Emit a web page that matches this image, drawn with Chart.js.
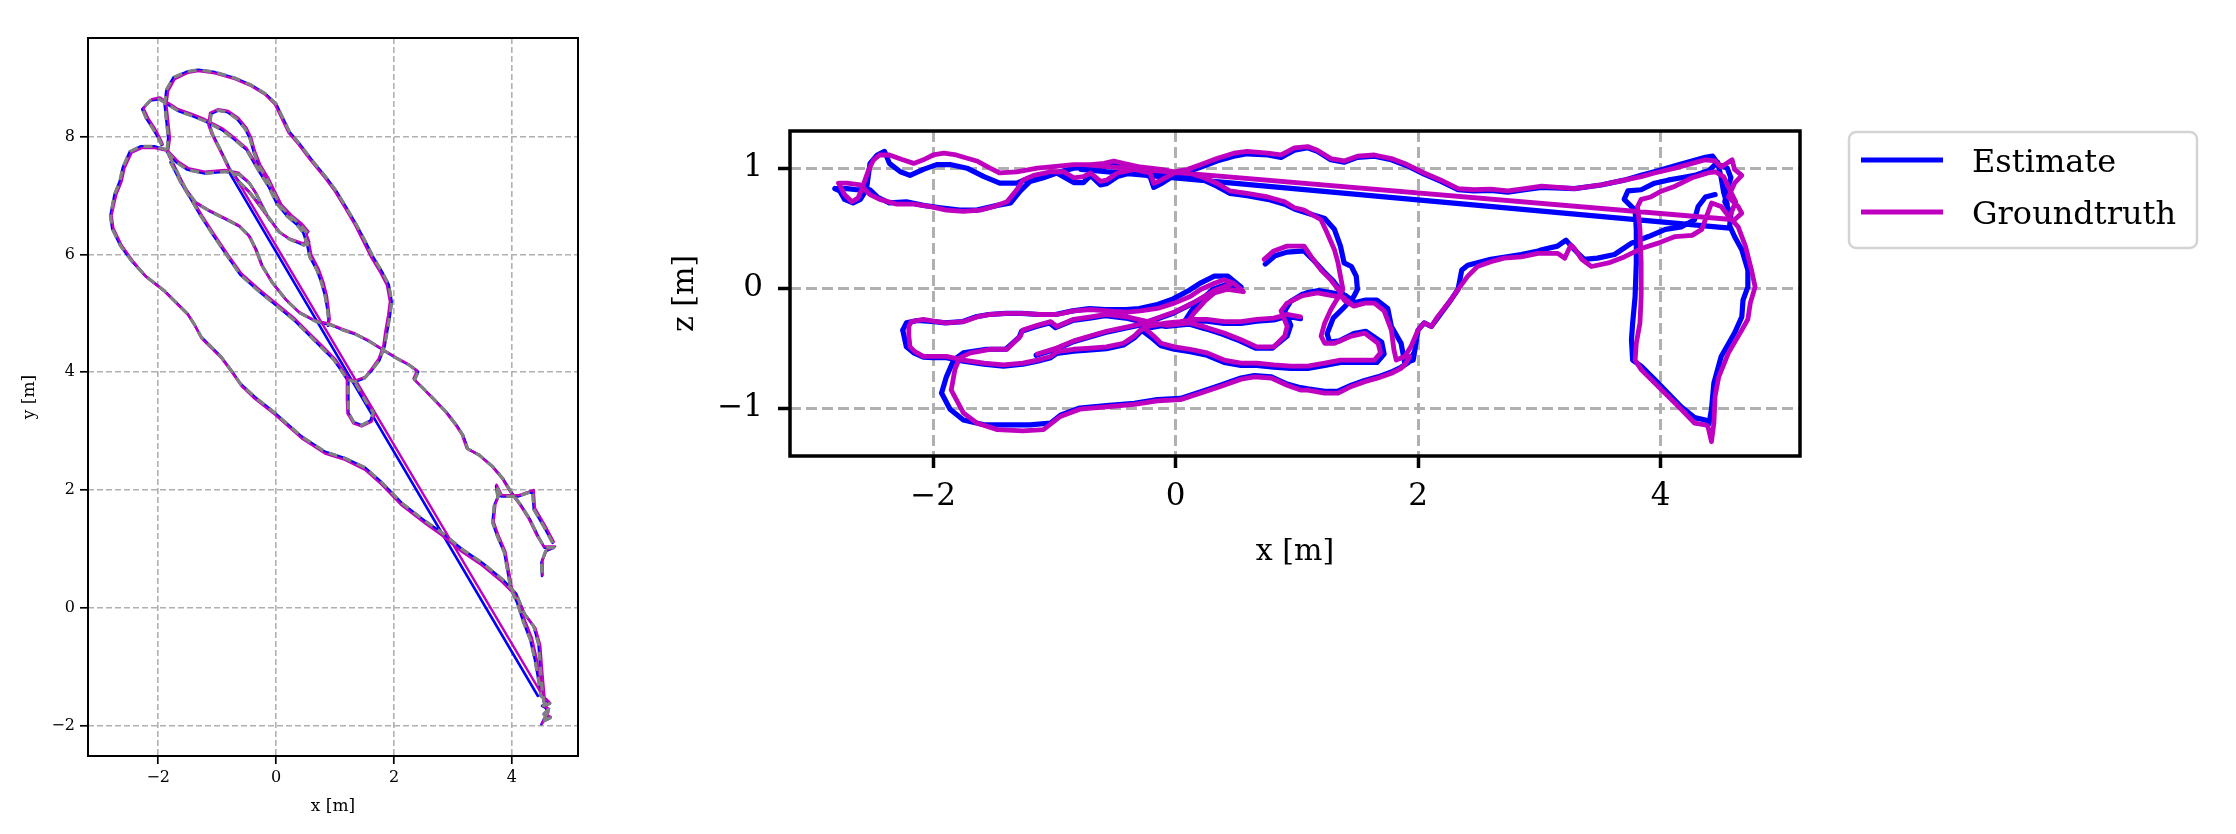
<!DOCTYPE html>
<html>
<head>
<meta charset="utf-8">
<script src="https://cdn.jsdelivr.net/npm/chart.js@4.4.1/dist/chart.umd.min.js"></script>
<style>
  html, body { margin: 0; padding: 0; background: #fff; }
  body { width: 2236px; height: 834px; position: relative; overflow: hidden; }
  canvas { position: absolute; top: 0; }
  #xy { left: 0; }
  #xz { left: 620px; }
</style>
</head>
<body>
<canvas id="xy" width="600" height="834"></canvas>
<canvas id="xz" width="1616" height="834"></canvas>
<script>
// tick values
const xyTicksX = [-2, 0, 2, 4];
const xyTicksY = [-2, 0, 2, 4, 6, 8];
const xzTicksX = [-2, 0, 2, 4];
const xzTicksZ = [-1, 0, 1];
const seriesNames = ['Estimate', 'Groundtruth'];

// top view (x, y) - each inner list is one traced stretch of the trajectory
const gtXY = [
  [[-1.83,7.76],[-2.06,7.81],[-2.28,7.81],[-2.45,7.73],[-2.57,7.47],[-2.62,7.24],[-2.71,7.02],[-2.79,6.67],[-2.76,6.45],[-2.62,6.16],[-2.42,5.88],[-2.20,5.62],[-1.89,5.37],[-1.66,5.14],[-1.49,4.97],[-1.38,4.80],[-1.26,4.57],[-1.09,4.40],[-0.92,4.23],[-0.75,4.00],[-0.59,3.77],[-0.36,3.55],[-0.02,3.28],[0.43,2.88],[0.83,2.62],[1.17,2.51],[1.51,2.34],[1.79,2.09],[2.13,1.74],[2.53,1.43],[2.81,1.23],[3.15,0.95],[3.49,0.72],[3.83,0.44],[4.06,0.21],[4.23,-0.13],[4.40,-0.35],[4.48,-0.64],[4.51,-1.04],[4.54,-1.38],[4.56,-1.60],[4.62,-1.77],[4.51,-1.97]],
  [[-1.83,7.76],[-1.80,7.98],[-1.83,8.27],[-1.86,8.55],[-1.83,8.78],[-1.72,8.98],[-1.49,9.09],[-1.32,9.12],[-1.04,9.08],[-0.70,8.98],[-0.42,8.86],[-0.19,8.72],[-0.02,8.55],[0.09,8.32],[0.21,8.07],[0.38,7.87],[0.60,7.58],[0.83,7.30],[1.00,7.07],[1.17,6.79],[1.34,6.50],[1.48,6.22],[1.62,5.94],[1.76,5.71],[1.88,5.48],[1.93,5.20],[1.90,4.97],[1.85,4.68],[1.82,4.46],[1.74,4.23],[1.62,4.06],[1.51,3.92],[1.34,3.86],[1.20,3.89],[1.20,3.53],[1.21,3.30],[1.31,3.13],[1.45,3.08],[1.62,3.16],[1.67,3.30],[1.54,3.50],[1.34,3.83]],
  [[-1.92,7.87],[-1.97,7.98],[-2.06,8.15],[-2.17,8.32],[-2.25,8.49],[-2.11,8.64],[-1.97,8.67],[-1.83,8.58],[-1.66,8.47],[-1.43,8.39],[-1.21,8.30],[-0.92,8.15],[-0.70,7.98],[-0.50,7.81],[-0.36,7.58],[-0.25,7.41],[-0.10,7.19],[0.04,6.90],[0.21,6.70],[0.38,6.56],[0.49,6.42],[0.55,6.25],[0.60,5.99],[0.72,5.76],[0.80,5.54],[0.86,5.31],[0.89,5.08],[0.91,4.91],[0.89,4.80]],
  [[0.55,6.39],[0.43,6.53],[0.26,6.67],[0.09,6.85],[-0.02,7.07],[-0.13,7.30],[-0.27,7.53],[-0.36,7.76],[-0.42,7.98],[-0.50,8.15],[-0.64,8.32],[-0.81,8.44],[-0.98,8.47],[-1.12,8.41],[-1.15,8.21],[-1.09,8.04],[-0.92,7.70],[-0.81,7.47],[-0.64,7.24],[-0.47,7.07],[-0.30,6.85],[-0.13,6.62],[0.04,6.39],[0.21,6.28],[0.46,6.19],[0.55,6.25]],
  [[-1.83,7.76],[-1.66,7.58],[-1.49,7.47],[-1.21,7.41],[-0.87,7.44],[-0.64,7.39],[-0.47,7.24],[-0.36,7.07],[-0.25,6.85],[-0.13,6.62]],
  [[-1.83,7.70],[-1.69,7.41],[-1.55,7.13],[-1.38,6.90],[-1.15,6.76],[-0.87,6.62],[-0.64,6.50],[-0.47,6.33],[-0.36,6.11],[-0.25,5.82],[-0.08,5.54],[0.15,5.25],[0.38,5.03],[0.66,4.88],[0.89,4.83],[1.11,4.74],[1.34,4.66],[1.57,4.54],[1.79,4.40],[2.02,4.26],[2.24,4.14],[2.39,4.03],[2.33,3.89],[2.47,3.75],[2.64,3.57],[2.87,3.33],[3.04,3.11],[3.15,2.94],[3.23,2.71],[3.43,2.60],[3.66,2.40],[3.83,2.20],[3.97,1.97],[4.14,1.74],[4.28,1.52],[4.42,1.23],[4.54,1.04],[4.73,1.04],[4.59,0.98],[4.51,0.78],[4.52,0.55]],
  [[-1.77,7.58],[-1.60,7.24],[-1.43,6.96],[-1.26,6.67],[-1.04,6.33],[-0.81,5.99],[-0.59,5.68],[-0.30,5.42],[0.04,5.14],[0.32,4.91],[0.55,4.68],[0.77,4.46],[1.00,4.23],[1.14,4.03],[1.23,3.89]],
  [[4.71,1.12],[4.56,1.40],[4.39,1.69],[4.37,2.00],[4.11,1.91],[3.83,1.91],[3.74,2.09],[3.78,1.90],[3.72,1.76],[3.69,1.46],[3.77,1.23],[3.89,0.95],[3.95,0.61],[4.00,0.33],[4.11,0.10],[4.23,-0.24],[4.34,-0.52],[4.42,-0.87],[4.48,-1.21],[4.51,-1.49],[4.58,-1.55],[4.65,-1.62],[4.52,-1.66],[4.63,-1.72],[4.55,-1.80],[4.66,-1.86],[4.55,-1.90]]
];
const estXY = [
  [[-1.85,7.78],[-2.07,7.84],[-2.29,7.84],[-2.48,7.75],[-2.60,7.48],[-2.65,7.25],[-2.74,7.02],[-2.81,6.66],[-2.78,6.44],[-2.64,6.15],[-2.44,5.88],[-2.21,5.63],[-1.90,5.39],[-1.67,5.16],[-1.50,4.99],[-1.39,4.82],[-1.27,4.60],[-1.10,4.43],[-0.93,4.26],[-0.76,4.03],[-0.60,3.80],[-0.36,3.58],[-0.02,3.31],[0.43,2.91],[0.83,2.65],[1.17,2.54],[1.51,2.38],[1.79,2.13],[2.13,1.78],[2.53,1.47],[2.82,1.27],[3.16,0.99],[3.50,0.76],[3.84,0.48],[4.07,0.24],[4.21,-0.10],[4.37,-0.32],[4.45,-0.62],[4.48,-1.02],[4.51,-1.36],[4.54,-1.60],[4.60,-1.78],[4.50,-1.98]],
  [[-1.85,7.78],[-1.83,7.98],[-1.86,8.27],[-1.89,8.55],[-1.86,8.80],[-1.74,9.01],[-1.50,9.11],[-1.32,9.14],[-1.04,9.10],[-0.70,9.00],[-0.42,8.88],[-0.18,8.73],[0.00,8.56],[0.11,8.33],[0.23,8.08],[0.40,7.88],[0.62,7.59],[0.85,7.31],[1.02,7.08],[1.19,6.80],[1.36,6.51],[1.51,6.23],[1.65,5.95],[1.79,5.72],[1.91,5.49],[1.96,5.20],[1.93,4.96],[1.88,4.67],[1.84,4.44],[1.75,4.20],[1.62,4.03],[1.50,3.90],[1.34,3.84],[1.22,3.87],[1.22,3.53],[1.23,3.31],[1.32,3.15],[1.45,3.10],[1.60,3.18],[1.65,3.31],[1.52,3.51],[1.33,3.84]],
  [[-1.94,7.86],[-1.99,7.97],[-2.09,8.14],[-2.20,8.31],[-2.27,8.47],[-2.13,8.62],[-1.98,8.64],[-1.84,8.55],[-1.66,8.44],[-1.43,8.36],[-1.21,8.27],[-0.92,8.12],[-0.70,7.95],[-0.50,7.78],[-0.37,7.55],[-0.27,7.38],[-0.13,7.16],[0.01,6.87],[0.18,6.66],[0.35,6.51],[0.46,6.37],[0.52,6.20],[0.57,5.96],[0.69,5.74],[0.77,5.52],[0.83,5.30],[0.87,5.07],[0.89,4.90],[0.88,4.79]],
  [[0.53,6.37],[0.41,6.51],[0.24,6.65],[0.07,6.83],[-0.04,7.05],[-0.15,7.28],[-0.29,7.51],[-0.38,7.74],[-0.44,7.96],[-0.52,8.13],[-0.66,8.30],[-0.82,8.42],[-0.98,8.45],[-1.10,8.39],[-1.13,8.20],[-1.07,8.03],[-0.90,7.69],[-0.79,7.46],[-0.62,7.23],[-0.45,7.06],[-0.28,6.84],[-0.11,6.61],[0.06,6.38],[0.23,6.26],[0.47,6.16],[0.56,6.22]],
  [[-1.85,7.74],[-1.68,7.56],[-1.50,7.44],[-1.21,7.38],[-0.87,7.41],[-0.63,7.36],[-0.45,7.21],[-0.34,7.04],[-0.23,6.82],[-0.11,6.59]],
  [[-1.81,7.68],[-1.67,7.39],[-1.53,7.11],[-1.36,6.88],[-1.13,6.74],[-0.85,6.60],[-0.62,6.48],[-0.45,6.31],[-0.34,6.09],[-0.23,5.80],[-0.06,5.52],[0.17,5.23],[0.40,5.01],[0.68,4.86],[0.91,4.81],[1.13,4.72],[1.36,4.64],[1.59,4.52],[1.81,4.38],[2.04,4.24],[2.26,4.12],[2.41,4.01],[2.35,3.87],[2.49,3.73],[2.66,3.56],[2.89,3.32],[3.06,3.10],[3.17,2.93],[3.25,2.70],[3.45,2.59],[3.68,2.39],[3.85,2.19],[3.99,1.96],[4.16,1.73],[4.30,1.51],[4.44,1.22],[4.55,1.02],[4.71,1.02],[4.57,0.96],[4.50,0.77],[4.51,0.54]],
  [[-1.79,7.57],[-1.62,7.23],[-1.45,6.95],[-1.28,6.66],[-1.06,6.32],[-0.83,5.98],[-0.61,5.66],[-0.32,5.40],[0.02,5.12],[0.30,4.89],[0.53,4.66],[0.75,4.44],[0.98,4.21],[1.12,4.01],[1.21,3.87]],
  [[4.69,1.10],[4.54,1.38],[4.37,1.67],[4.35,1.98],[4.10,1.89],[3.82,1.89],[3.73,2.07],[3.76,1.88],[3.70,1.74],[3.67,1.45],[3.75,1.22],[3.87,0.94],[3.93,0.60],[3.98,0.32],[4.09,0.08],[4.20,-0.26],[4.31,-0.54],[4.39,-0.89],[4.45,-1.23],[4.49,-1.50],[4.57,-1.56],[4.64,-1.63],[4.51,-1.67],[4.62,-1.73],[4.54,-1.81],[4.65,-1.87],[4.53,-1.93]]
];
const gtJumpXY = [[-0.74,7.40],[4.50,-1.46]];
const estJumpXY = [[-0.78,7.37],[4.44,-1.50]];

// side view (x, z)
const gtXZ = [
  [[-2.78,0.875],[-2.73,0.78],[-2.67,0.72],[-2.62,0.75],[-2.59,0.82],[-2.53,0.99],[-2.49,1.07],[-2.44,1.11],[-2.36,1.11],[-2.25,1.07],[-2.16,1.04],[-2.08,1.07],[-2.00,1.11],[-1.91,1.125],[-1.81,1.11],[-1.64,1.06],[-1.53,1.00],[-1.45,0.96],[-1.31,0.97],[-1.14,1.00],[-1.03,1.01],[-0.84,1.03],[-0.70,1.03],[-0.59,1.04],[-0.51,1.06],[-0.43,1.04],[-0.29,1.01],[-0.12,0.99],[-0.01,0.97],[0.10,0.99],[0.21,1.03],[0.34,1.08],[0.48,1.125],[0.59,1.14],[0.76,1.125],[0.87,1.11],[0.98,1.17],[1.09,1.18],[1.17,1.15],[1.28,1.08],[1.39,1.06],[1.50,1.10],[1.64,1.11],[1.78,1.08],[1.91,1.03],[2.05,0.96],[2.19,0.90],[2.33,0.83],[2.46,0.82],[2.60,0.825],[2.74,0.81],[2.88,0.83],[3.02,0.85],[3.29,0.83],[3.51,0.86],[3.70,0.90],[3.84,0.93],[3.95,0.96],[4.12,1.00],[4.26,1.04],[4.37,1.07],[4.45,1.06],[4.50,1.01],[4.59,1.07],[4.61,0.99],[4.67,0.94],[4.61,0.875],[4.56,0.76],[4.64,0.68],[4.67,0.625],[4.61,0.57]],
  [[-2.78,0.875],[-2.71,0.875],[-2.60,0.86],[-2.52,0.78],[-2.44,0.74],[-2.30,0.70],[-2.16,0.70],[-2.02,0.68],[-1.89,0.65],[-1.75,0.64],[-1.61,0.65],[-1.50,0.68],[-1.39,0.72],[-1.31,0.82],[-1.26,0.90],[-1.17,0.94],[-1.03,0.97],[-0.92,0.97],[-0.84,0.92],[-0.76,0.93],[-0.70,0.96],[-0.62,0.89],[-0.57,0.90],[-0.48,0.96],[-0.34,0.99],[-0.21,0.96],[-0.18,0.875],[-0.12,0.90],[-0.01,0.96],[0.10,0.96],[0.21,0.93],[0.34,0.875],[0.45,0.81],[0.59,0.79],[0.76,0.76],[0.90,0.72],[0.98,0.67],[1.06,0.65],[1.20,0.57],[1.25,0.46],[1.31,0.32],[1.34,0.21],[1.36,0.10],[1.38,-0.01],[1.28,-0.18],[1.23,-0.29],[1.20,-0.40],[1.23,-0.46],[1.31,-0.46],[1.45,-0.40],[1.56,-0.375],[1.67,-0.46],[1.69,-0.54],[1.64,-0.60],[1.50,-0.60],[1.36,-0.60],[1.23,-0.625],[1.09,-0.65],[0.95,-0.65],[0.81,-0.64],[0.67,-0.625],[0.54,-0.625],[0.40,-0.60],[0.26,-0.54],[0.12,-0.51],[-0.01,-0.49],[-0.12,-0.46],[-0.18,-0.40],[-0.26,-0.33]],
  [[-2.20,-0.32],[-2.18,-0.28],[-2.08,-0.26],[-1.97,-0.28],[-1.89,-0.29],[-1.75,-0.28],[-1.64,-0.24],[-1.53,-0.22],[-1.39,-0.21],[-1.26,-0.21],[-1.12,-0.22],[-0.98,-0.22],[-0.84,-0.19],[-0.70,-0.18],[-0.57,-0.19],[-0.40,-0.20],[-0.29,-0.19],[-0.15,-0.17],[-0.01,-0.125],[0.12,-0.07],[0.21,-0.01],[0.32,0.04],[0.40,0.07],[0.48,0.04],[0.56,-0.03],[0.43,-0.01],[0.32,-0.04],[0.24,-0.11],[0.15,-0.21],[0.10,-0.28]],
  [[-2.20,-0.32],[-2.20,-0.40],[-2.19,-0.49],[-2.15,-0.53],[-2.08,-0.57],[-2.00,-0.57],[-1.89,-0.57],[-1.75,-0.60],[-1.58,-0.625],[-1.42,-0.64],[-1.26,-0.625],[-1.14,-0.60],[-1.03,-0.57],[-0.98,-0.53],[-0.84,-0.51],[-0.70,-0.50],[-0.57,-0.49],[-0.43,-0.46],[-0.34,-0.40],[-0.29,-0.35],[-0.23,-0.32],[-0.07,-0.29],[0.04,-0.28],[0.15,-0.26],[0.26,-0.26],[0.40,-0.28],[0.54,-0.28],[0.67,-0.26],[0.81,-0.25],[0.92,-0.22],[1.03,-0.24]],
  [[-1.85,-0.85],[-1.82,-0.68],[-1.78,-0.58],[-1.69,-0.54],[-1.53,-0.51],[-1.39,-0.51],[-1.28,-0.40],[-1.26,-0.35],[-1.14,-0.31],[-1.03,-0.28],[-0.98,-0.32],[-0.84,-0.26],[-0.70,-0.24],[-0.57,-0.22],[-0.40,-0.24],[-0.23,-0.28],[-0.07,-0.31],[0.12,-0.29],[0.26,-0.33],[0.40,-0.375],[0.54,-0.43],[0.67,-0.49],[0.81,-0.49],[0.90,-0.40],[0.92,-0.32],[0.87,-0.19],[0.92,-0.125],[1.03,-0.07],[1.06,-0.06],[1.17,-0.04],[1.28,-0.06],[1.39,-0.08],[1.47,-0.15],[1.56,-0.125],[1.64,-0.125],[1.72,-0.19],[1.78,-0.35],[1.80,-0.51],[1.82,-0.60],[1.89,-0.57],[1.94,-0.49],[2.00,-0.35],[2.05,-0.29],[2.11,-0.32],[2.16,-0.24],[2.25,-0.125],[2.33,-0.01],[2.41,0.10],[2.49,0.18],[2.60,0.22],[2.71,0.25],[2.85,0.26],[2.99,0.29],[3.15,0.29],[3.21,0.25],[3.26,0.36],[3.29,0.33],[3.35,0.24],[3.43,0.18],[3.57,0.21],[3.70,0.26],[3.84,0.33],[3.98,0.375],[4.12,0.43],[4.26,0.44],[4.34,0.49],[4.38,0.60],[4.42,0.71],[4.50,0.68],[4.56,0.60]],
  [[-1.14,-0.55],[-0.98,-0.50],[-0.84,-0.44],[-0.57,-0.36],[-0.29,-0.30],[-0.01,-0.20],[0.15,-0.12],[0.32,-0.02],[0.45,0.03]],
  [[0.73,0.24],[0.81,0.31],[0.92,0.35],[1.06,0.35],[1.12,0.26],[1.20,0.15],[1.28,0.07],[1.34,-0.01],[1.39,-0.10],[1.47,-0.15]],
  [[-1.85,-0.85],[-1.75,-1.04],[-1.64,-1.125],[-1.47,-1.18],[-1.26,-1.19],[-1.09,-1.18],[-0.95,-1.07],[-0.79,-1.01],[-0.57,-0.99],[-0.34,-0.97],[-0.15,-0.94],[0.04,-0.93],[0.21,-0.875],[0.37,-0.82],[0.54,-0.76],[0.65,-0.74],[0.79,-0.75],[0.92,-0.81],[1.03,-0.85],[1.09,-0.85],[1.23,-0.875],[1.34,-0.875],[1.45,-0.82],[1.56,-0.78],[1.67,-0.75],[1.78,-0.71],[1.86,-0.67],[1.90,-0.625],[1.93,-0.57]],
  [[4.56,0.60],[4.64,0.51],[4.70,0.35],[4.75,0.15],[4.78,0.01],[4.74,-0.125],[4.72,-0.26],[4.67,-0.35],[4.56,-0.54],[4.48,-0.74],[4.45,-0.90],[4.44,-1.125],[4.42,-1.28],[4.39,-1.15],[4.37,-1.14],[4.28,-1.125],[4.17,-1.01],[4.06,-0.90],[3.95,-0.79],[3.84,-0.68],[3.79,-0.60],[3.80,-0.46],[3.83,-0.29],[3.84,-0.07],[3.84,0.21],[3.83,0.49],[3.81,0.68],[3.84,0.74],[3.92,0.76],[4.01,0.81],[4.12,0.85],[4.26,0.92],[4.39,0.96],[4.45,0.97],[4.52,0.93],[4.58,0.80],[4.62,0.72],[4.58,0.62]]
];
const estXZ = [
  [[-2.81,0.83],[-2.77,0.81],[-2.73,0.74],[-2.66,0.71],[-2.60,0.74],[-2.55,0.82],[-2.52,1.04],[-2.46,1.11],[-2.40,1.14],[-2.36,1.04],[-2.27,0.97],[-2.19,0.94],[-2.08,0.99],[-1.97,1.03],[-1.86,1.03],[-1.72,1.00],[-1.58,0.93],[-1.45,0.875],[-1.31,0.875],[-1.20,0.92],[-1.03,0.95],[-0.84,1.00],[-0.70,1.01],[-0.59,1.01],[-0.51,1.03],[-0.43,1.02],[-0.29,0.99],[-0.12,0.97],[-0.01,0.95],[0.10,0.97],[0.21,1.01],[0.34,1.06],[0.48,1.10],[0.59,1.12],[0.76,1.11],[0.87,1.09],[0.98,1.15],[1.09,1.17],[1.17,1.14],[1.28,1.07],[1.39,1.05],[1.50,1.09],[1.64,1.10],[1.78,1.07],[1.91,1.02],[2.05,0.95],[2.19,0.89],[2.33,0.82],[2.46,0.81],[2.60,0.815],[2.74,0.80],[2.88,0.82],[3.02,0.84],[3.29,0.83],[3.51,0.86],[3.70,0.90],[3.84,0.94],[3.95,0.97],[4.12,1.02],[4.26,1.06],[4.37,1.09],[4.43,1.10],[4.48,1.03],[4.55,1.00],[4.58,0.92],[4.55,0.82],[4.53,0.72],[4.58,0.62],[4.57,0.52]],
  [[-2.81,0.83],[-2.71,0.83],[-2.63,0.82],[-2.52,0.82],[-2.46,0.76],[-2.36,0.71],[-2.22,0.72],[-2.08,0.69],[-1.94,0.67],[-1.78,0.65],[-1.64,0.65],[-1.47,0.69],[-1.36,0.71],[-1.28,0.81],[-1.20,0.89],[-1.09,0.92],[-0.98,0.96],[-0.84,0.88],[-0.76,0.88],[-0.70,0.94],[-0.62,0.86],[-0.57,0.87],[-0.48,0.93],[-0.34,0.97],[-0.21,0.93],[-0.18,0.84],[-0.12,0.87],[-0.01,0.94],[0.10,0.94],[0.21,0.91],[0.34,0.85],[0.45,0.79],[0.59,0.77],[0.76,0.74],[0.90,0.70],[0.98,0.66],[1.09,0.625],[1.23,0.58],[1.31,0.49],[1.36,0.35],[1.39,0.21],[1.45,0.18],[1.49,0.10],[1.50,-0.01],[1.47,-0.07],[1.40,-0.15],[1.30,-0.25],[1.25,-0.38],[1.27,-0.45],[1.35,-0.44],[1.47,-0.38],[1.57,-0.36],[1.70,-0.45],[1.72,-0.55],[1.66,-0.62],[1.50,-0.62],[1.36,-0.62],[1.23,-0.645],[1.09,-0.67],[0.95,-0.67],[0.81,-0.66],[0.67,-0.645],[0.54,-0.645],[0.40,-0.62],[0.26,-0.56],[0.12,-0.53],[-0.01,-0.51],[-0.12,-0.48],[-0.19,-0.42],[-0.28,-0.35]],
  [[-2.25,-0.35],[-2.22,-0.29],[-2.13,-0.27],[-1.99,-0.28],[-1.90,-0.29],[-1.76,-0.28],[-1.65,-0.24],[-1.54,-0.22],[-1.40,-0.21],[-1.27,-0.21],[-1.13,-0.22],[-0.99,-0.22],[-0.85,-0.19],[-0.71,-0.17],[-0.58,-0.18],[-0.41,-0.18],[-0.30,-0.17],[-0.16,-0.14],[-0.02,-0.09],[0.11,-0.02],[0.20,0.04],[0.32,0.10],[0.43,0.10],[0.54,0.01],[0.42,0.03],[0.31,-0.01],[0.22,-0.09],[0.13,-0.19],[0.08,-0.27]],
  [[-2.25,-0.35],[-2.22,-0.49],[-2.16,-0.54],[-2.08,-0.575],[-2.00,-0.58],[-1.89,-0.58],[-1.75,-0.61],[-1.58,-0.635],[-1.42,-0.65],[-1.26,-0.635],[-1.14,-0.61],[-1.03,-0.58],[-0.98,-0.545],[-0.84,-0.525],[-0.70,-0.515],[-0.57,-0.505],[-0.43,-0.475],[-0.34,-0.415],[-0.29,-0.365],[-0.23,-0.335],[-0.07,-0.305],[0.04,-0.295],[0.15,-0.275],[0.26,-0.275],[0.40,-0.295],[0.54,-0.295],[0.67,-0.275],[0.81,-0.265],[0.92,-0.235],[1.03,-0.255]],
  [[-1.93,-0.875],[-1.89,-0.74],[-1.83,-0.60],[-1.75,-0.54],[-1.56,-0.51],[-1.40,-0.51],[-1.29,-0.41],[-1.27,-0.36],[-1.15,-0.32],[-1.04,-0.29],[-0.99,-0.33],[-0.85,-0.27],[-0.71,-0.25],[-0.58,-0.23],[-0.41,-0.25],[-0.24,-0.29],[-0.08,-0.32],[0.11,-0.30],[0.25,-0.34],[0.39,-0.385],[0.53,-0.44],[0.66,-0.50],[0.80,-0.50],[0.92,-0.40],[0.95,-0.31],[0.90,-0.19],[0.95,-0.11],[1.05,-0.05],[1.08,-0.04],[1.18,-0.02],[1.29,-0.04],[1.40,-0.06],[1.48,-0.12],[1.57,-0.10],[1.66,-0.10],[1.75,-0.17],[1.78,-0.32],[1.86,-0.46],[1.89,-0.625],[1.96,-0.60],[2.00,-0.35],[2.05,-0.29],[2.11,-0.32],[2.19,-0.21],[2.27,-0.10],[2.33,-0.01],[2.36,0.15],[2.41,0.19],[2.60,0.24],[2.85,0.28],[2.99,0.31],[3.02,0.32],[3.15,0.35],[3.22,0.40],[3.29,0.32],[3.37,0.24],[3.48,0.25],[3.62,0.28],[3.76,0.375],[3.90,0.43],[4.04,0.49],[4.17,0.51],[4.28,0.57],[4.31,0.68],[4.37,0.76],[4.45,0.78]],
  [[-1.15,-0.56],[-0.99,-0.51],[-0.85,-0.45],[-0.58,-0.37],[-0.30,-0.31],[-0.02,-0.21],[0.14,-0.13],[0.31,-0.03],[0.44,0.02]],
  [[0.74,0.20],[0.82,0.27],[0.92,0.30],[1.06,0.31],[1.13,0.24],[1.22,0.14],[1.30,0.06],[1.36,-0.02],[1.41,-0.09],[1.48,-0.13]],
  [[-1.93,-0.875],[-1.86,-1.01],[-1.75,-1.10],[-1.58,-1.14],[-1.39,-1.14],[-1.20,-1.14],[-1.03,-1.125],[-0.95,-1.06],[-0.79,-1.00],[-0.57,-0.98],[-0.34,-0.96],[-0.15,-0.93],[0.04,-0.92],[0.21,-0.865],[0.37,-0.81],[0.54,-0.75],[0.65,-0.73],[0.79,-0.74],[0.92,-0.80],[1.03,-0.83],[1.09,-0.84],[1.23,-0.86],[1.34,-0.86],[1.45,-0.81],[1.56,-0.77],[1.67,-0.74],[1.78,-0.70],[1.86,-0.66],[1.92,-0.62],[1.96,-0.55]],
  [[4.57,0.52],[4.61,0.43],[4.67,0.32],[4.72,0.15],[4.72,0.01],[4.68,-0.10],[4.67,-0.24],[4.61,-0.375],[4.50,-0.57],[4.44,-0.79],[4.42,-1.01],[4.40,-1.13],[4.37,-1.10],[4.28,-1.08],[4.17,-0.99],[4.06,-0.875],[3.95,-0.76],[3.84,-0.65],[3.77,-0.60],[3.76,-0.43],[3.77,-0.29],[3.79,-0.07],[3.80,0.21],[3.80,0.49],[3.79,0.65],[3.70,0.74],[3.73,0.81],[3.84,0.82],[3.95,0.875],[4.06,0.90],[4.17,0.92],[4.28,0.94],[4.40,0.98],[4.47,1.05],[4.50,0.92],[4.52,0.80],[4.55,0.70]]
];
const gtJumpXZ = [[-0.76,1.03],[4.61,0.57]];
const estJumpXZ = [[-0.78,0.99],[4.57,0.50]];

Chart.defaults.font.family = '"DejaVu Serif", serif';
Chart.defaults.color = '#000';

// stretches joined with a gap point so the line breaks between them
function toPoints(strands) {
  const pts = [];
  strands.forEach((s, i) => {
    if (i > 0) pts.push({ x: null, y: null });
    s.forEach(p => pts.push({ x: p[0], y: p[1] }));
  });
  return pts;
}

const fmt = v => (v < 0 ? '\u2212' + Math.abs(v) : String(v));

const frame = {
  id: 'frame',
  afterDatasetsDraw(chart, args, opts) {
    const { ctx, chartArea: a } = chart;
    ctx.save();
    ctx.strokeStyle = '#000';
    ctx.lineWidth = opts.width;
    ctx.strokeRect(a.left, a.top, a.right - a.left, a.bottom - a.top);
    ctx.restore();
  }
};

// legend box to the right of the side view
const boxLegend = {
  id: 'boxLegend',
  afterDraw(chart) {
    const ctx = chart.ctx;
    const x = 1229, y = 132, w = 348, h = 116, r = 7;
    ctx.save();
    ctx.beginPath();
    ctx.moveTo(x + r, y);
    ctx.arcTo(x + w, y, x + w, y + h, r);
    ctx.arcTo(x + w, y + h, x, y + h, r);
    ctx.arcTo(x, y + h, x, y, r);
    ctx.arcTo(x, y, x + w, y, r);
    ctx.closePath();
    ctx.fillStyle = 'rgba(255,255,255,0.8)';
    ctx.fill();
    ctx.lineWidth = 2.5;
    ctx.strokeStyle = '#d4d4d4';
    ctx.stroke();
    chart.data.datasets.forEach((ds, i) => {
      const ly = 160 + i * 52;
      ctx.strokeStyle = ds.borderColor;
      ctx.lineWidth = 5;
      ctx.beginPath();
      ctx.moveTo(1241, ly);
      ctx.lineTo(1323, ly);
      ctx.stroke();
      ctx.fillStyle = '#000';
      ctx.font = '32px "DejaVu Serif"';
      ctx.textBaseline = 'alphabetic';
      ctx.fillText(ds.label, 1352, ly + 12);
    });
    ctx.restore();
  }
};

function axis(min, max, ticks, o) {
  return {
    type: 'linear',
    min: min,
    max: max,
    afterBuildTicks: s => { s.ticks = ticks.map(v => ({ value: v })); },
    afterFit: o.fit,
    grid: { color: '#b0b0b0', lineWidth: o.grid, tickColor: '#000', tickWidth: o.tickW, tickLength: o.tickL },
    border: { display: false, dash: o.dash },
    ticks: { font: { size: o.tickFont }, padding: o.pad, callback: v => fmt(v), maxRotation: 0, autoSkip: false },
    title: { display: true, text: o.title, font: { size: o.titleFont }, padding: o.titlePad }
  };
}

const line = (label, color, width, order) => ({
  label: label,
  borderColor: color,
  borderWidth: width,
  pointRadius: 0,
  tension: 0,
  fill: false,
  order: order,
  borderJoinStyle: 'round',
  borderCapStyle: 'round'
});

new Chart(document.getElementById('xy'), {
  type: 'line',
  data: {
    datasets: [
      Object.assign(line(seriesNames[0], '#0000ff', 2.6, 2), { data: toPoints(estXY.concat([estJumpXY])) }),
      Object.assign(line(seriesNames[1], '#bf00bf', 2.4, 1), { data: toPoints(gtXY.concat([gtJumpXY])) }),
      Object.assign(line('', '#808080', 3.2, 0), { data: toPoints(estXY), borderDash: [9, 6], borderCapStyle: 'butt' })
    ]
  },
  options: {
    responsive: false,
    animation: false,
    events: [],
    layout: { padding: { left: 0, top: 38, right: 22, bottom: 0 } },
    plugins: { legend: { display: false }, tooltip: { enabled: false }, frame: { width: 2 } },
    scales: {
      x: axis(-3.19, 5.12, xyTicksX, { fit: s => { s.height = 78; }, grid: 1.6, tickW: 1.7, tickL: 8, dash: [6, 3], tickFont: 16, pad: 4, title: 'x [m]', titleFont: 17, titlePad: { top: 0, bottom: 17 } }),
      y: axis(-2.52, 9.68, xyTicksY, { fit: s => { s.width = 88; }, grid: 1.6, tickW: 1.7, tickL: 8, dash: [6, 3], tickFont: 16, pad: 5, title: 'y [m]', titleFont: 17, titlePad: { top: 19, bottom: 0 } })
    }
  },
  plugins: [frame]
});

new Chart(document.getElementById('xz'), {
  type: 'line',
  data: {
    datasets: [
      Object.assign(line(seriesNames[0], '#0000ff', 5.2, 1), { data: toPoints(estXZ.concat([estJumpXZ])) }),
      Object.assign(line(seriesNames[1], '#bf00bf', 4.8, 0), { data: toPoints(gtXZ.concat([gtJumpXZ])) })
    ]
  },
  options: {
    responsive: false,
    animation: false,
    events: [],
    layout: { padding: { left: 0, top: 131, right: 436, bottom: 248 } },
    plugins: { legend: { display: false }, tooltip: { enabled: false }, frame: { width: 3.5 } },
    scales: {
      x: axis(-3.18, 5.15, xzTicksX, { fit: s => { s.height = 130; }, grid: 3, tickW: 3.5, tickL: 12, dash: [11, 5], tickFont: 31, pad: 10, title: 'x [m]', titleFont: 30, titlePad: { top: 0, bottom: 16 } }),
      y: axis(-1.40, 1.31, xzTicksZ, { fit: s => { s.width = 170; }, grid: 3, tickW: 3.5, tickL: 12, dash: [11, 5], tickFont: 31, pad: 15, title: 'z [m]', titleFont: 30, titlePad: { top: 47, bottom: 0 } })
    }
  },
  plugins: [frame, boxLegend]
});
</script>
</body>
</html>
